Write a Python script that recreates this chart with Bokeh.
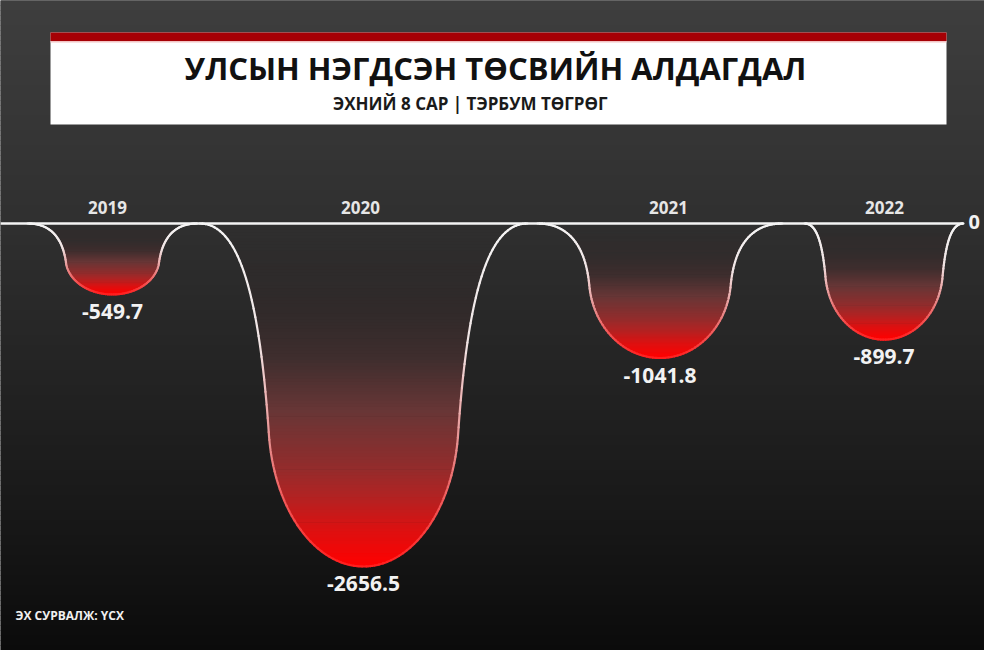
import numpy as np
from bokeh.plotting import figure
from bokeh.models import Range1d, ColumnDataSource
from bokeh.embed import file_html
from bokeh.resources import INLINE
from bokeh.core.properties import value

# ---------------- data ----------------
years = ["2019", "2020", "2021", "2022"]
deficits = [-549.7, -2656.5, -1041.8, -899.7]
value_labels = ["-549.7", "-2656.5", "-1041.8", "-899.7"]
zero_label = "0"
title_text = "УЛСЫН НЭГДСЭН ТӨСВИЙН АЛДАГДАЛ"
subtitle_text = "ЭХНИЙ 8 САР  | ТЭРБУМ ТӨГРӨГ"
source_text = "ЭХ СУРВАЛЖ: ҮСХ"

# ---------------- layout (page-pixel based) ----------------
W, H = 984, 650
PAGE_X0, PAGE_Y0 = 8, 8
DIP_SPANS = [(35, 205), (207, 535), (545, 790), (812, 971)]   # x extents of each dip
DIP_BOWL_A = [0.55, 0.58, 0.58, 0.74]   # half-width of the rounded bowl (share of half span)
DIP_BOWL_B = [0.50, 0.43, 0.60, 0.60]   # height of the bowl (share of depth)
YEAR_LABEL_X = [115, 368, 676, 892]
ZERO_Y = 231.0                # page y of the zero line
MAX_DEPTH_PX = 343.0          # pixel depth of the largest deficit
K = MAX_DEPTH_PX / max(abs(v) for v in deficits)   # px per unit


def vy(page_y):
    """page pixel y -> data value"""
    return (ZERO_Y - page_y) / K


x_range = Range1d(PAGE_X0, PAGE_X0 + W)
y_range = Range1d(vy(PAGE_Y0 + H), vy(PAGE_Y0))

p = figure(width=W, height=H, x_range=x_range, y_range=y_range,
           output_backend="svg", toolbar_location=None, min_border=0)
p.axis.visible = False
p.grid.visible = False
p.outline_line_color = None
p.background_fill_color = "#1c1c1c"
p.border_fill_color = "#1c1c1c"


def lerp_stops(t, stops):
    for i in range(len(stops) - 1):
        t0, c0 = stops[i]
        t1, c1 = stops[i + 1]
        if t <= t1:
            f = 0 if t1 == t0 else (t - t0) / (t1 - t0)
            return tuple(c0[j] + (c1[j] - c0[j]) * f for j in range(len(c0)))
    return stops[-1][1]


def hexc(c):
    return "#%02x%02x%02x" % tuple(int(round(max(0, min(255, x)))) for x in c[:3])


# ---------------- background gradient ----------------
bg_stops = [(0.0, (62, 62, 62)), (0.35, (47, 47, 47)), (0.6, (34, 34, 34)),
            (0.85, (21, 21, 21)), (1.0, (11, 11, 11))]


def bg_at(page_y):
    return lerp_stops((page_y - PAGE_Y0) / H, bg_stops)


NBG = 130
edges = np.linspace(PAGE_Y0, PAGE_Y0 + H, NBG + 1)
bg = dict(left=[], right=[], top=[], bottom=[], color=[])
for i in range(NBG):
    bg["left"].append(PAGE_X0)
    bg["right"].append(PAGE_X0 + W)
    bg["top"].append(vy(edges[i] - 0.5))
    bg["bottom"].append(vy(edges[i + 1] + 0.5))
    bg["color"].append(hexc(bg_at((edges[i] + edges[i + 1]) / 2)))
p.quad(left="left", right="right", top="top", bottom="bottom", color="color",
       line_color=None, source=ColumnDataSource(bg))

# ---------------- title box ----------------
p.quad(left=58, right=954, top=vy(40), bottom=vy(132), fill_color="#ffffff", line_color=None)
p.quad(left=58, right=954, top=vy(40), bottom=vy(48.5), fill_color="#a60005", line_color=None)
p.quad(left=58, right=954, top=vy(48.5), bottom=vy(50), fill_color="#f2c4c4", line_color=None)

p.text(x=[503], y=[vy(75)], text=[title_text], text_font=value("Open Sans"),
       text_font_style="bold", text_font_size="31px", text_color="#111111",
       text_align="center", text_baseline="middle")
p.text(x=[480], y=[vy(111)], text=[subtitle_text], text_font=value("Open Sans"),
       text_font_style="bold", text_font_size="17px", text_color="#1a1a1a",
       text_align="center", text_baseline="middle")


# ---------------- dip profile (u: 0 centre .. 1 edge, d: 0 top .. 1 bottom) ----------------
def profile(a, b, th_max=np.radians(84)):
    th = np.linspace(0, th_max, 200)
    u1 = a * np.sin(th)
    d1 = (1 - b) + b * np.cos(th)
    p0 = np.array([u1[-1], d1[-1]])
    tang = np.array([a * np.cos(th_max), -b * np.sin(th_max)])
    tang = tang / np.hypot(*tang)
    L = 0.75 * p0[1] / abs(tang[1])
    p1 = p0 + L * tang
    p2 = np.array([max(a + 0.5 * (1 - a), p1[0] + 0.02), 0.0])
    p3 = np.array([1.0, 0.0])
    t = np.linspace(0, 1, 200)[1:, None]
    bz = ((1 - t) ** 3) * p0 + 3 * ((1 - t) ** 2) * t * p1 + 3 * (1 - t) * t ** 2 * p2 + t ** 3 * p3
    u = np.concatenate([u1, bz[:, 0]])
    d = np.concatenate([d1, bz[:, 1]])
    return u, d


fill_stops = [(0.0, (48, 42, 42, 0.0)), (0.25, (52, 43, 43, 0.7)),
              (0.4, (64, 46, 46, 1.0)), (0.55, (104, 54, 54, 1.0)),
              (0.7, (142, 45, 45, 1.0)), (0.8, (178, 34, 34, 1.0)),
              (0.9, (222, 16, 16, 1.0)), (1.0, (255, 0, 0, 1.0))]
line_stops = [(0.0, (245, 245, 245)), (0.35, (240, 228, 228)),
              (0.65, (232, 140, 140)), (1.0, (255, 30, 30))]

patch_xs, patch_ys, patch_col = [], [], []
seg_xs, seg_ys, seg_col = [], [], []
centers = []
NB = 110
for (x0, x1), a, b, v in zip(DIP_SPANS, DIP_BOWL_A, DIP_BOWL_B, deficits):
    cx = (x0 + x1) / 2
    hw = (x1 - x0) / 2
    centers.append(cx)
    pu, pd = profile(a, b)
    xs = np.linspace(x0, x1, 900)
    uu = np.abs(xs - cx) / hw
    shape = np.interp(uu, pu, pd)
    ys = v * shape
    # gradient fill, horizontal bands (opaque, pre-blended on the background)
    ts = np.linspace(0, 1, NB + 1)
    for i in range(NB):
        t0, t1 = ts[i], ts[i + 1]
        yb = v * t0 + 0.7 / K
        ya = v * t1
        mask = ys < v * t0
        if mask.sum() < 2:
            idx = int(np.argmin(ys))
            mask[max(idx - 1, 0):idx + 2] = True
        xsel = xs[mask]
        lower = np.clip(ys[mask], ya, yb)
        patch_xs.append(list(xsel) + list(xsel[::-1]))
        patch_ys.append(list(lower) + [yb] * len(xsel))
        r, g, bb_, al = lerp_stops((t0 + t1) / 2, fill_stops)
        pg = ZERO_Y - v * (t0 + t1) / 2 * K
        br, bgc, bbb = bg_at(pg)
        patch_col.append(hexc((al * r + (1 - al) * br, al * g + (1 - al) * bgc,
                               al * bb_ + (1 - al) * bbb)))
    # outline: the parametric profile itself, in coloured pieces
    lx = np.concatenate([cx - hw * pu[::-1], cx + hw * pu[1:]])
    ld = np.concatenate([pd[::-1], pd[1:]])
    ly = v * ld
    step = 6
    for i in range(0, len(lx) - 1, step):
        j = min(i + step, len(lx) - 1)
        tm = ld[i:j + 1].mean()
        seg_xs.append(list(lx[i:j + 1]))
        seg_ys.append(list(ly[i:j + 1]))
        seg_col.append(hexc(lerp_stops(tm, line_stops)))

p.patches(xs="xs", ys="ys", fill_color="c", line_color=None,
          source=ColumnDataSource(dict(xs=patch_xs, ys=patch_ys, c=patch_col)))

# zero line
p.line(x=[PAGE_X0, DIP_SPANS[-1][1]], y=[0, 0], line_color="#f4f4f4", line_width=2.5)

p.multi_line(xs="xs", ys="ys", line_color="c", line_width=2.2, line_cap="round",
             source=ColumnDataSource(dict(xs=seg_xs, ys=seg_ys, c=seg_col)))

# ---------------- labels ----------------
p.text(x=YEAR_LABEL_X, y=[vy(215)] * len(years), text=years, text_font=value("Open Sans"),
       text_font_style="bold", text_font_size="17px", text_color="#e6e6e6",
       text_align="center", text_baseline="middle")

label_y = [v - 17 / K for v in deficits]
p.text(x=centers, y=label_y, text=value_labels, text_font=value("Open Sans"),
       text_font_style="bold", text_font_size="21px", text_color="#f2f2f2",
       text_align="center", text_baseline="middle")

p.text(x=[976], y=[vy(229)], text=[zero_label], text_font=value("Open Sans"),
       text_font_style="bold", text_font_size="20px", text_color="#f2f2f2",
       text_align="left", text_baseline="middle")

p.text(x=[23], y=[vy(623)], text=[source_text], text_font=value("Open Sans"),
       text_font_style="bold", text_font_size="12px", text_color="#f0f0f0",
       text_align="left", text_baseline="middle")

open("out.html", "w").write(file_html(p, INLINE))
